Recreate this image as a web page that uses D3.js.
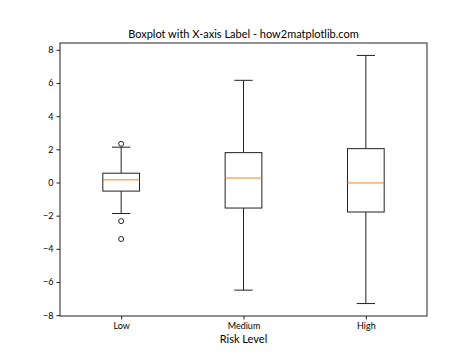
<!DOCTYPE html>
<html>
<head>
<meta charset="utf-8">
<script src="https://cdn.jsdelivr.net/npm/d3@7"></script>
<style>
  body { margin: 0; background: #fff; }
  text { font-family: "Lato", "Noto Sans", sans-serif; fill: #000; }
</style>
</head>
<body>
<script>
// box statistics
const categories = ["Low", "Medium", "High"];
const whiskerLow = [-1.87, -6.49, -7.30];
const q1 = [-0.52, -1.54, -1.78];
const medians = [0.16, 0.27, -0.03];
const q3 = [0.56, 1.80, 2.04];
const whiskerHigh = [2.13, 6.16, 7.66];
const outliers = [[2.33, -2.33, -3.41], [], []];
const yTicks = [-8, -6, -4, -2, 0, 2, 4, 6, 8];

const width = 474, height = 355;
const margin = { left: 60, right: 47, top: 43, bottom: 39 };
const lw = 1;

const svg = d3.select("body").append("svg")
    .attr("width", width)
    .attr("height", height);

const x = d3.scaleLinear()
    .domain([0.5, 3.5])
    .range([margin.left, width - margin.right]);

const y = d3.scaleLinear()
    .domain([-8.05, 8.41])
    .range([height - margin.bottom, margin.top]);

const boxW = x(1.3) - x(1);
const capW = boxW / 2;

const boxes = categories.map((c, i) => ({
    name: c, pos: i + 1,
    lo: whiskerLow[i], q1: q1[i], med: medians[i], q3: q3[i], hi: whiskerHigh[i],
    fliers: outliers[i]
}));

const g = svg.append("g");

const box = g.selectAll("g.box")
    .data(boxes)
    .enter()
    .append("g")
    .attr("class", "box");

// whiskers
box.append("line")
    .attr("x1", d => x(d.pos)).attr("x2", d => x(d.pos))
    .attr("y1", d => y(d.q3)).attr("y2", d => y(d.hi))
    .attr("stroke", "#222").attr("stroke-width", lw);
box.append("line")
    .attr("x1", d => x(d.pos)).attr("x2", d => x(d.pos))
    .attr("y1", d => y(d.q1)).attr("y2", d => y(d.lo))
    .attr("stroke", "#222").attr("stroke-width", lw);

// caps
box.append("line")
    .attr("x1", d => x(d.pos) - capW / 2).attr("x2", d => x(d.pos) + capW / 2)
    .attr("y1", d => y(d.hi)).attr("y2", d => y(d.hi))
    .attr("stroke", "#222").attr("stroke-width", lw);
box.append("line")
    .attr("x1", d => x(d.pos) - capW / 2).attr("x2", d => x(d.pos) + capW / 2)
    .attr("y1", d => y(d.lo)).attr("y2", d => y(d.lo))
    .attr("stroke", "#222").attr("stroke-width", lw);

// box
box.append("rect")
    .attr("x", d => x(d.pos) - boxW / 2)
    .attr("y", d => y(d.q3))
    .attr("width", boxW)
    .attr("height", d => y(d.q1) - y(d.q3))
    .attr("fill", "none")
    .attr("stroke", "#222").attr("stroke-width", lw);

// median
box.append("line")
    .attr("x1", d => x(d.pos) - boxW / 2).attr("x2", d => x(d.pos) + boxW / 2)
    .attr("y1", d => y(d.med)).attr("y2", d => y(d.med))
    .attr("stroke", "#ff7f0e").attr("stroke-width", lw);

// fliers
box.selectAll("circle")
    .data(d => d.fliers.map(v => ({ pos: d.pos, v })))
    .enter()
    .append("circle")
    .attr("cx", d => x(d.pos))
    .attr("cy", d => y(d.v))
    .attr("r", 2.5)
    .attr("fill", "none")
    .attr("stroke", "#222").attr("stroke-width", lw);

// axes
const xAxis = svg.append("g")
    .attr("transform", `translate(0,${height - margin.bottom})`)
    .call(d3.axisBottom(x).tickValues([1, 2, 3]).tickFormat(d => categories[d - 1]).tickSize(3.5).tickPadding(3));
const yAxis = svg.append("g")
    .attr("transform", `translate(${margin.left},0)`)
    .call(d3.axisLeft(y).tickValues(yTicks).tickFormat(d3.format("d")).tickSize(3.5).tickPadding(3));

[xAxis, yAxis].forEach(a => {
    a.select(".domain").remove();
    a.selectAll(".tick line").attr("stroke", "#222").attr("stroke-width", lw);
    a.selectAll(".tick text").style("font-size", "9px").attr("fill", "#000");
});

// frame
svg.append("rect")
    .attr("x", margin.left).attr("y", margin.top)
    .attr("width", width - margin.left - margin.right)
    .attr("height", height - margin.top - margin.bottom)
    .attr("fill", "none")
    .attr("stroke", "#222").attr("stroke-width", lw);

svg.append("text")
    .attr("x", (margin.left + width - margin.right) / 2)
    .attr("y", 38)
    .attr("text-anchor", "middle")
    .style("font-size", "11px")
    .text("Boxplot with X-axis Label - how2matplotlib.com");

svg.append("text")
    .attr("x", (margin.left + width - margin.right) / 2)
    .attr("y", 343)
    .attr("text-anchor", "middle")
    .style("font-size", "11px")
    .text("Risk Level");
</script>
</body>
</html>
